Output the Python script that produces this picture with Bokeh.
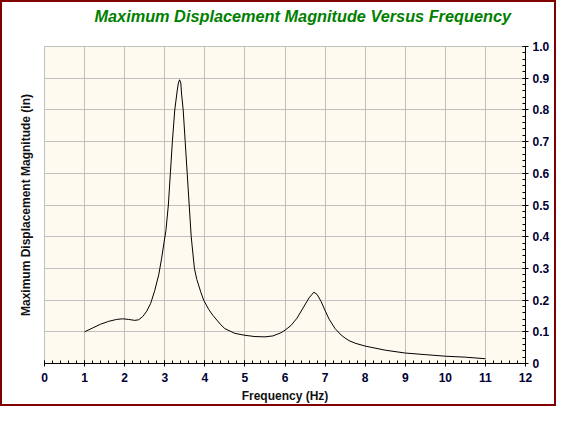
from bokeh.plotting import figure
from bokeh.models import Range1d, FixedTicker, Title
from bokeh.embed import file_html
from bokeh.resources import INLINE

freq = [1.0, 1.2, 1.4, 1.6, 1.8, 1.95, 2.1, 2.25, 2.35, 2.45, 2.55, 2.65, 2.75,
        2.85, 2.92, 2.98, 3.03, 3.09, 3.14, 3.19, 3.25, 3.31, 3.34, 3.37, 3.40,
        3.42, 3.46, 3.51, 3.56, 3.61, 3.66, 3.74, 3.8, 3.9, 3.97, 4.1, 4.2,
        4.3, 4.4, 4.5, 4.75, 5.0, 5.25, 5.5, 5.7, 5.9, 6.0, 6.15, 6.3, 6.45,
        6.6, 6.72, 6.8, 6.9, 7.0, 7.1, 7.25, 7.4, 7.5, 7.6, 7.75, 8.0, 8.5,
        9.0, 9.5, 10.0, 10.5, 11.0]
disp = [0.100, 0.112, 0.124, 0.133, 0.139, 0.141, 0.139, 0.136, 0.138, 0.148,
        0.165, 0.19, 0.23, 0.28, 0.33, 0.38, 0.42, 0.50, 0.60, 0.70, 0.80, 0.86,
        0.885, 0.895, 0.885, 0.85, 0.80, 0.70, 0.60, 0.50, 0.40, 0.30, 0.265,
        0.225, 0.20, 0.17, 0.152, 0.137, 0.122, 0.11, 0.095, 0.089, 0.085,
        0.084, 0.087, 0.097, 0.105, 0.12, 0.143, 0.175, 0.207, 0.225, 0.218,
        0.196, 0.167, 0.14, 0.11, 0.09, 0.08, 0.072, 0.064, 0.055, 0.042,
        0.033, 0.028, 0.023, 0.020, 0.015]

x_ticks = list(range(0, 13))
y_ticks = [0.0, 0.1, 0.2, 0.3, 0.4, 0.5, 0.6, 0.7, 0.8, 0.9, 1.0]
y_tick_labels = ["0", "0.1", "0.2", "0.3", "0.4", "0.5", "0.6", "0.7", "0.8", "0.9", "1.0"]

title_text = "Maximum Displacement Magnitude Versus Frequency"
x_label = "Frequency (Hz)"
y_label = "Maximum Displacement Magnitude (in)"

FONT = "Liberation Sans"
TICK_COLOR = "#000033"

p = figure(width=556, height=406, output_backend="svg", toolbar_location=None,
           x_range=Range1d(0, 12), y_range=Range1d(0, 1),
           y_axis_location="right",
           min_border_left=42, min_border_right=33,
           min_border_top=44, min_border_bottom=45)
p.styles = {"border": "2px solid #800000"}
p.background_fill_color = "#FFFAF0"
p.border_fill_color = "white"
p.outline_line_color = "#C0C0C0"

# a second, blank line under the title keeps the title up near the top edge
p.title.text = title_text + "\n "
p.title.text_font = FONT
p.title.text_font_style = "bold italic"
p.title.text_font_size = "16.3px"
p.title.text_color = "#008000"
p.title.align = "left"
p.title.vertical_align = "top"
p.title.offset = 50
p.title.standoff = 4

p.add_layout(Title(text=y_label, align="center", text_font=FONT,
                   text_font_style="bold", text_font_size="12px",
                   text_color="#111111", standoff=24), "left")

for ax in (p.xaxis[0], p.yaxis[0]):
    ax.major_label_text_font = FONT
    ax.major_label_text_font_style = "bold"
    ax.major_label_text_font_size = "12px"
    ax.major_label_text_color = TICK_COLOR
    ax.axis_line_color = "black"
    ax.major_tick_line_color = "black"
    ax.minor_tick_line_color = "black"
    ax.major_tick_in = 3
    ax.major_tick_out = 3
    ax.minor_tick_in = 3
    ax.minor_tick_out = 0

p.xaxis[0].ticker = FixedTicker(ticks=x_ticks,
                                minor_ticks=[i / 5 for i in range(0, 61)])
p.yaxis[0].ticker = FixedTicker(ticks=y_ticks,
                                minor_ticks=[i / 50 for i in range(0, 51)])
p.yaxis[0].major_label_overrides = {t: l for t, l in zip(y_ticks, y_tick_labels)}
p.xaxis[0].major_label_standoff = 6
p.yaxis[0].major_label_standoff = 4

p.xaxis[0].axis_label = x_label
p.xaxis[0].axis_label_text_font = FONT
p.xaxis[0].axis_label_text_font_style = "bold"
p.xaxis[0].axis_label_text_font_size = "12px"
p.xaxis[0].axis_label_text_color = "#111111"
p.xaxis[0].axis_label_standoff = 4

p.xgrid.grid_line_color = "#C0C0C0"
p.ygrid.grid_line_color = "#C0C0C0"
p.xgrid.ticker = FixedTicker(ticks=x_ticks)
p.ygrid.ticker = FixedTicker(ticks=y_ticks)

p.line(freq, disp, line_color="black", line_width=1)

open("out.html", "w").write(file_html(p, INLINE))
